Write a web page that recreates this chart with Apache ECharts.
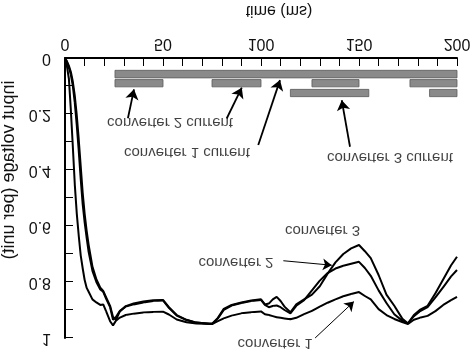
<!DOCTYPE html>
<html>
<head>
<meta charset="utf-8">
<script src="https://cdn.jsdelivr.net/npm/echarts@6/dist/echarts.min.js"></script>
</head>
<body style="margin:0;background:#fff">
<!-- the reference picture is printed upside down (mirrored top-bottom), so the whole chart is flipped -->
<div id="c" style="width:474px;height:355px;transform:scaleY(-1)"></div>
<script>
// time (ms)
var time = [0, 1, 2, 3, 4, 5, 6, 7, 8, 9, 10, 11, 12, 14, 16, 18, 19.5, 21, 23, 24.5, 26, 28, 31, 35, 40, 45, 50,
  53, 57, 62, 67, 75, 78, 81, 85, 90, 95, 100, 102, 104, 106, 108, 110, 112, 115, 118, 122, 126, 130, 134,
  138, 142, 146, 150, 153, 156, 160, 164, 168, 172, 175, 178, 181, 185, 189, 193, 197, 200];

// input voltage (per unit)
var conv1 = [0, 0.03, 0.075, 0.188, 0.317, 0.452, 0.555, 0.634, 0.704, 0.75, 0.792, 0.82, 0.834, 0.862, 0.873,
  0.882, 0.88, 0.905, 0.94, 0.955, 0.938, 0.927, 0.918, 0.913, 0.909, 0.907, 0.906,
  0.916, 0.934, 0.944, 0.948, 0.95, 0.94, 0.93, 0.92, 0.912, 0.908, 0.905, 0.915, 0.918, 0.922, 0.926, 0.928,
  0.93, 0.933, 0.928, 0.915, 0.903, 0.888, 0.874, 0.862, 0.851, 0.843, 0.836, 0.85, 0.862, 0.897, 0.918,
  0.932, 0.943, 0.95, 0.935, 0.928, 0.921, 0.904, 0.882, 0.865, 0.853];
var conv2 = [0, 0.015, 0.035, 0.06, 0.1, 0.16, 0.24, 0.33, 0.43, 0.52, 0.585, 0.64, 0.69, 0.76, 0.8,
  0.827, 0.835, 0.86, 0.89, 0.935, 0.925, 0.903, 0.888, 0.88, 0.873, 0.868, 0.866,
  0.892, 0.92, 0.936, 0.945, 0.95, 0.93, 0.9, 0.884, 0.875, 0.868, 0.864, 0.882, 0.89, 0.886, 0.884, 0.89,
  0.9, 0.912, 0.885, 0.865, 0.83, 0.795, 0.768, 0.752, 0.742, 0.735, 0.728, 0.75, 0.778, 0.83, 0.875,
  0.915, 0.938, 0.948, 0.922, 0.905, 0.89, 0.855, 0.818, 0.78, 0.757];
var conv3 = [0, 0.012, 0.028, 0.05, 0.085, 0.135, 0.205, 0.29, 0.385, 0.48, 0.555, 0.615, 0.665, 0.745, 0.79,
  0.82, 0.832, 0.855, 0.885, 0.925, 0.935, 0.905, 0.886, 0.877, 0.87, 0.865, 0.864,
  0.89, 0.918, 0.935, 0.945, 0.95, 0.928, 0.896, 0.882, 0.873, 0.866, 0.862, 0.88, 0.877, 0.862, 0.853, 0.868,
  0.888, 0.908, 0.88, 0.862, 0.845, 0.815, 0.77, 0.73, 0.70, 0.68, 0.668, 0.69, 0.715, 0.775, 0.845,
  0.885, 0.93, 0.948, 0.918, 0.9, 0.885, 0.84, 0.79, 0.74, 0.71];

// converter current on-intervals (ms) and the band each row sits in
var conv1Cur = [[25.5, 200]];
var conv2Cur = [[25.5, 50], [75, 100], [126, 150], [176, 200]];
var conv3Cur = [[115, 155], [186, 200]];
var curBands = [[0.044, 0.071], [0.077, 0.103], [0.112, 0.138]];

// annotations
var noteText = ['converter 2 current', 'converter 1 current', 'converter 3 current',
  'converter 3', 'converter 2', 'converter 1'];
var notePos = [[53.6, 0.229], [62.2, 0.336], [165.8, 0.354], [131.4, 0.615], [87.2, 0.729], [107.2, 1.018]];
var arrowsThick = [[[32.1, 0.215], [35.2, 0.112]], [[82.5, 0.216], [90.2, 0.106]],
  [[98.6, 0.311], [109.7, 0.079]], [[145.4, 0.317], [141.2, 0.151]]];
var arrowsThin = [[[111.4, 0.724], [136.1, 0.74]], [[127.6, 1.0], [147.4, 0.87]]];

var FONT = 'Liberation Sans, Arial, sans-serif';

function pairs(v) {
  return time.map(function (t, i) { return [t, v[i]]; });
}

var bars = [];
[conv1Cur, conv2Cur, conv3Cur].forEach(function (row, k) {
  row.forEach(function (s) {
    bars.push([s[0], s[1], curBands[k][0], curBands[k][1]]);
  });
});

function lineSeries(name, v) {
  return {
    name: name, type: 'line', data: pairs(v), showSymbol: false, smooth: false,
    lineStyle: { color: '#000', width: 2 }, z: 3
  };
}

var chart = echarts.init(document.getElementById('c'));
chart.setOption({
  animation: false,
  backgroundColor: '#fff',
  grid: { left: 65, right: 17, top: 17, bottom: 58, containLabel: false, outerBoundsMode: 'none' },
  xAxis: {
    type: 'value', min: 0, max: 200, interval: 50,
    name: 'time (ms)', nameLocation: 'middle', nameGap: 40,
    nameTextStyle: { fontFamily: FONT, fontSize: 16, color: '#111', padding: [0, 0, 0, 36] },
    axisLine: { lineStyle: { color: '#000', width: 2 } },
    axisTick: { inside: true, length: 8, lineStyle: { color: '#000', width: 1 } },
    minorTick: { show: true, splitNumber: 5, length: 8, lineStyle: { color: '#000', width: 1 } },
    axisLabel: { fontFamily: FONT, fontSize: 16, color: '#111', margin: 7 },
    splitLine: { show: false }
  },
  yAxis: {
    type: 'value', min: 0, max: 1, interval: 0.2,
    name: 'input voltage (per unit)', nameLocation: 'middle', nameGap: 45,
    nameTextStyle: { fontFamily: FONT, fontSize: 18, color: '#111', padding: [0, 56, 0, 0] },
    axisLine: { show: true, lineStyle: { color: '#000', width: 2 } },
    axisTick: { show: true, inside: true, length: 8, lineStyle: { color: '#000', width: 1 } },
    minorTick: { show: true, splitNumber: 2, length: 8, lineStyle: { color: '#000', width: 1 } },
    axisLabel: { fontFamily: FONT, fontSize: 16, color: '#111', margin: 14 },
    splitLine: { show: false }
  },
  series: [
    {
      type: 'custom', data: bars, encode: { x: [0, 1], y: [2, 3] },
      renderItem: function (params, api) {
        var a = api.coord([api.value(0), api.value(2)]);
        var b = api.coord([api.value(1), api.value(3)]);
        return {
          type: 'rect',
          shape: { x: a[0], y: b[1], width: b[0] - a[0], height: a[1] - b[1] },
          style: { fill: '#8a8a8a', stroke: '#5a5a5a', lineWidth: 0.8 }
        };
      }
    },
    lineSeries('converter 1', conv1),
    lineSeries('converter 2', conv2),
    lineSeries('converter 3', conv3),
    {
      type: 'lines', coordinateSystem: 'cartesian2d', clip: false,
      symbol: ['none', 'arrow'], symbolSize: 10,
      lineStyle: { color: '#000', width: 1.8, opacity: 1 },
      data: arrowsThick.map(function (c) { return { coords: c }; })
    },
    {
      type: 'lines', coordinateSystem: 'cartesian2d', clip: false,
      symbol: ['none', 'arrow'], symbolSize: 9,
      lineStyle: { color: '#000', width: 1, opacity: 1 },
      data: arrowsThin.map(function (c) { return { coords: c }; })
    },
    {
      type: 'scatter', clip: false, symbolSize: 1, itemStyle: { color: 'rgba(0,0,0,0)' },
      label: {
        show: true, position: 'inside', formatter: '{b}',
        fontFamily: FONT, fontSize: 15, color: '#111'
      },
      data: noteText.map(function (t, i) { return { name: t, value: notePos[i] }; }),
      z: 5
    }
  ]
});
</script>
</body>
</html>
